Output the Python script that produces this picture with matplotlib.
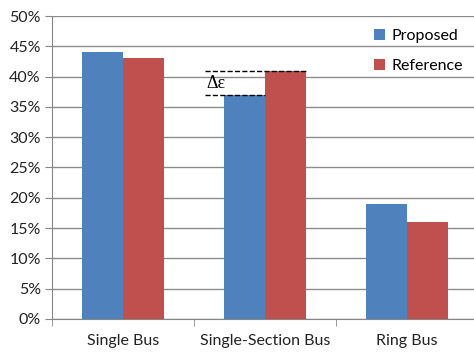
import matplotlib
matplotlib.use('Agg')
import matplotlib.pyplot as plt
import numpy as np

# Chart data
categories = ['Single Bus', 'Single-Section Bus', 'Ring Bus']
proposed = [44, 37, 19]
reference = [43, 41, 16]
yticks = [0, 5, 10, 15, 20, 25, 30, 35, 40, 45, 50]

plt.rcParams['font.family'] = ['Lato', 'DejaVu Sans']

fig = plt.figure(figsize=(4.74, 3.54), dpi=100)
ax = fig.add_axes([0.1097, 0.0989, 0.8903, 0.8559])

x = np.arange(len(categories))
w = 0.29
ax.bar(x - w / 2, proposed, w, color='#4F81BD', label='Proposed', zorder=3)
ax.bar(x + w / 2, reference, w, color='#C0504D', label='Reference', zorder=3)

ax.set_ylim(0, 50)
ax.set_xlim(-0.5, 2.47)
ax.set_yticks(yticks)
ax.set_yticklabels([f'{t}%' for t in yticks], fontsize=11.5, color='#222222')
ax.set_xticks(x)
ax.set_xticklabels(categories, fontsize=11.5, color='#222222')
ax.set_xticks([-0.5, 0.5, 1.5], minor=True)
ax.tick_params(axis='x', which='major', length=0, pad=11)
ax.tick_params(axis='x', which='minor', length=5, color='#868686')
ax.tick_params(axis='y', length=5, color='#868686', pad=3)
ax.grid(axis='y', color='#8c8c8c', linewidth=1, zorder=0)
for s in ['top', 'right']:
    ax.spines[s].set_visible(False)
for s in ['left', 'bottom']:
    ax.spines[s].set_color('#868686')

# Delta epsilon annotation
i = 1
ax.plot([i - w - 0.13, i + w], [reference[i], reference[i]], ls='--', color='black', lw=1, zorder=4)
ax.plot([i - w - 0.13, i], [proposed[i], proposed[i]], ls='--', color='black', lw=1, zorder=4)
ax.text(i - w - 0.12, (reference[i] + proposed[i]) / 2 - 0.2, 'Δε',
        fontsize=13, family=['Liberation Serif', 'DejaVu Serif'], va='center', ha='left', zorder=5)

leg = ax.legend(loc='upper right', bbox_to_anchor=(1.0, 0.995), frameon=False, fontsize=11.5,
                labelspacing=1.0, handlelength=0.7, handleheight=0.7, handletextpad=0.4,
                borderaxespad=0.3)

plt.savefig('out.png', dpi=100)
